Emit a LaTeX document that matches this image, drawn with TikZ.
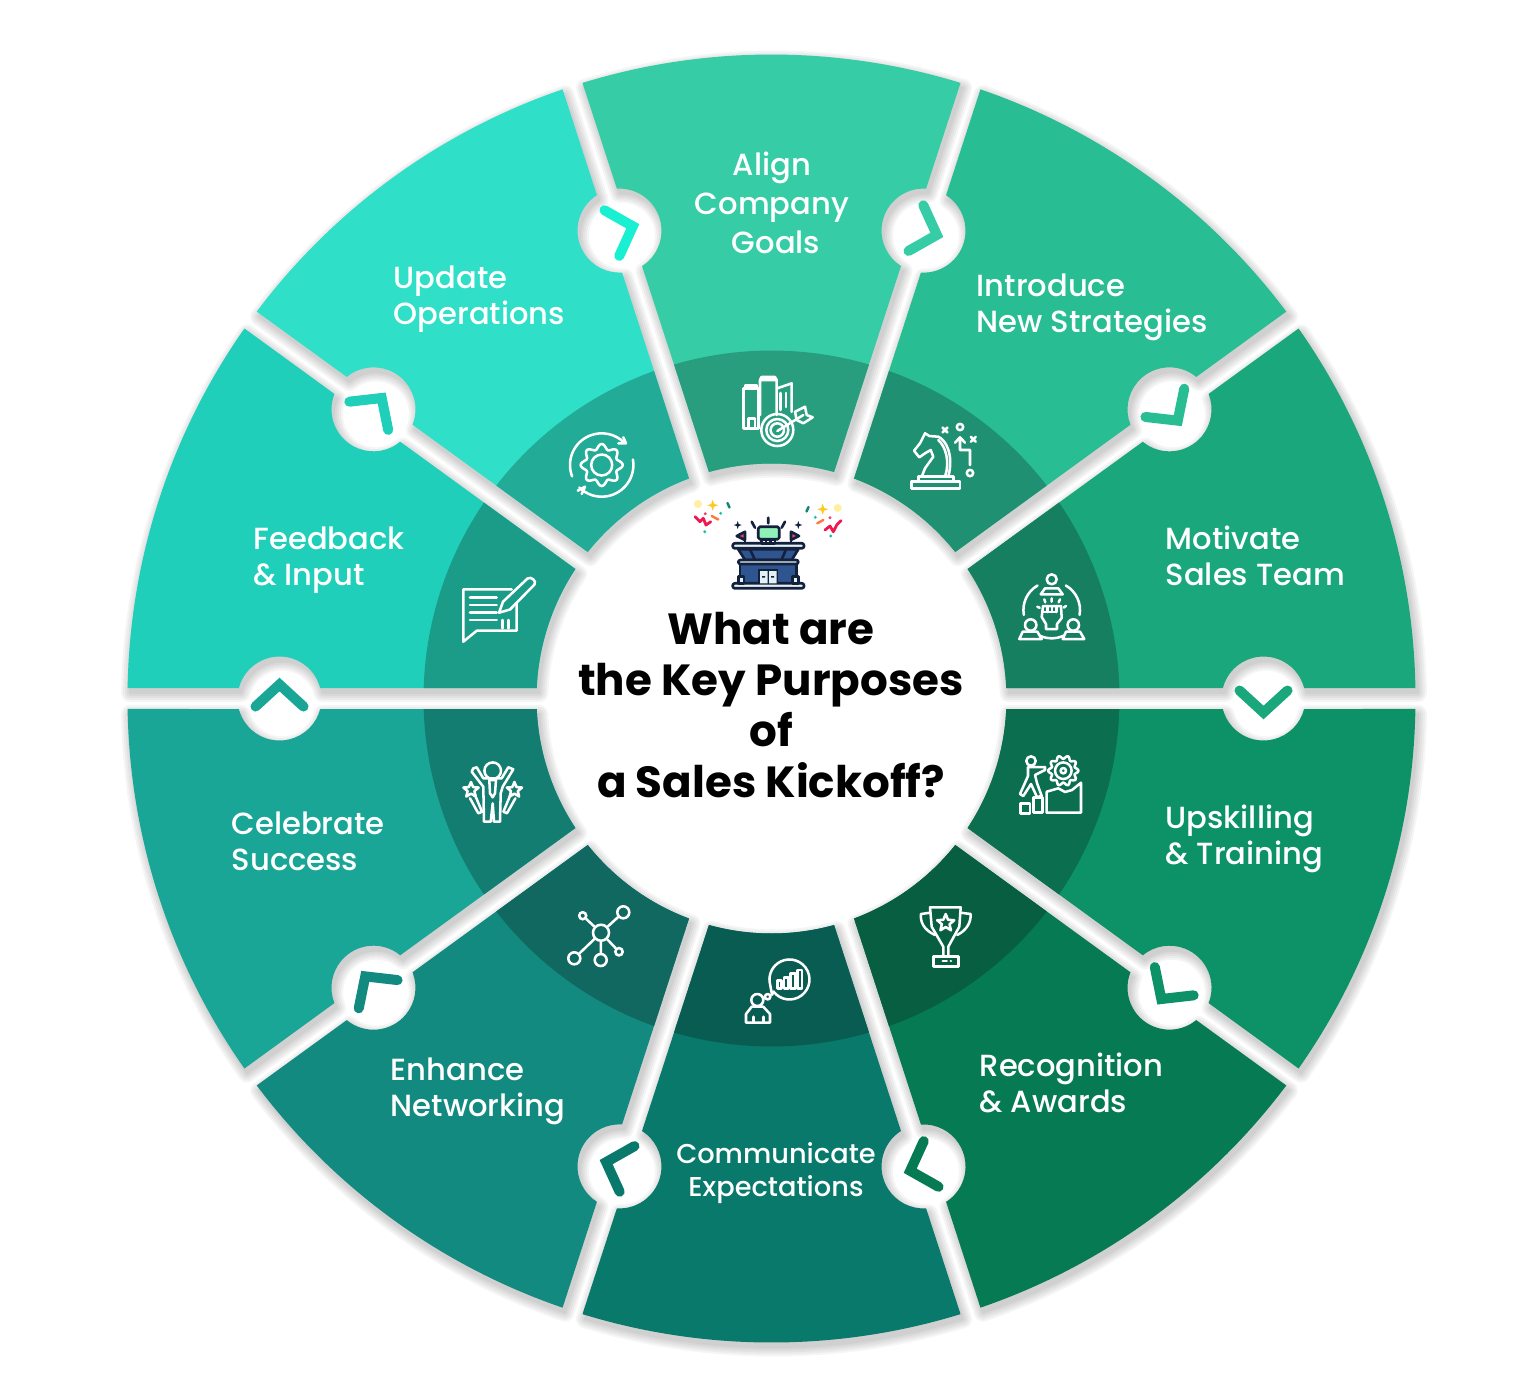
\documentclass[tikz,border=0pt]{standalone}
\usepackage{fontspec}
\setmainfont{Poppins}
\newfontfamily\labelfont{Poppins Medium}
\usetikzlibrary{positioning}

\definecolor{alignOuter}{HTML}{36CDA6}\definecolor{alignInner}{HTML}{289E7E}
\definecolor{introOuter}{HTML}{28BD93}\definecolor{introInner}{HTML}{1F9071}
\definecolor{motivOuter}{HTML}{19A77B}\definecolor{motivInner}{HTML}{157F60}
\definecolor{upskiOuter}{HTML}{0D9267}\definecolor{upskiInner}{HTML}{0A6E4F}
\definecolor{recogOuter}{HTML}{057A53}\definecolor{recogInner}{HTML}{075E41}
\definecolor{commsOuter}{HTML}{08796B}\definecolor{commsInner}{HTML}{095C51}
\definecolor{enhanOuter}{HTML}{138A7F}\definecolor{enhanInner}{HTML}{106860}
\definecolor{celebOuter}{HTML}{1AA697}\definecolor{celebInner}{HTML}{147D72}
\definecolor{feedbOuter}{HTML}{1FCFB9}\definecolor{feedbInner}{HTML}{1A9C88}
\definecolor{updatOuter}{HTML}{2FDFC7}\definecolor{updatInner}{HTML}{22AB96}
\definecolor{updatChev}{HTML}{19F0D2}
\definecolor{stageDark}{HTML}{14213D}\definecolor{stageBlue}{HTML}{2F5590}
\definecolor{stageLight}{HTML}{E3F0F5}\definecolor{stageGreen}{HTML}{8FF0B8}
\definecolor{partyPink}{HTML}{E6436F}\definecolor{partyRed}{HTML}{F0194F}
\definecolor{partyGold}{HTML}{FFC91F}\definecolor{partyPale}{HTML}{FFEFA0}
\definecolor{partyTeal}{HTML}{1ABFA8}\definecolor{partyOrange}{HTML}{FF7A3C}

\newcommand{\wedgepath}{(-15.44:235) -- (-16.667:451.45)
  arc[start angle=147.52,end angle=-3.52,radius=42] -- (-17.07:644)
  arc[start angle=-17.07,end angle=17.07,radius=644] -- (16.871:532.77)
  arc[start angle=3.52,end angle=-147.52,radius=42] -- (15.44:235)
  arc[start angle=15.44,end angle=-15.44,radius=235] -- cycle}
\newcommand{\ringpath}{(-15.44:235) -- (-16.27:348)
  arc[start angle=-16.27,end angle=16.27,radius=348] -- (15.44:235)
  arc[start angle=15.44,end angle=-15.44,radius=235] -- cycle}
\newcommand{\starpath}[2]{(-90:#1) -- (-54:#2) -- (-18:#1) -- (18:#2) -- (54:#1)
  -- (90:#2) -- (126:#1) -- (162:#2) -- (198:#1) -- (234:#2) -- cycle}
\newcommand{\sparkpath}[1]{(0,-#1) -- (.25*#1,-.25*#1) -- (#1,0) -- (.25*#1,.25*#1)
  -- (0,#1) -- (-.25*#1,.25*#1) -- (-#1,0) -- (-.25*#1,-.25*#1) -- cycle}

\tikzset{
  caption/.style={text=white,inner sep=0pt,align=left,anchor=west,
    font=\labelfont\fontsize{8.7}{10.25}\selectfont},
  midcaption/.style={caption,align=center,anchor=center},
  iconline/.style={white,line width=.72pt,line cap=round,line join=round},
  hubdot/.style={circle,draw=white,line width=.72pt,inner sep=0pt},
  stageline/.style={draw=stageDark,line width=.75pt,line join=round},
  chevron/.style={line width=2.85pt,line cap=round,line join=miter},
}

\begin{document}
\begin{tikzpicture}[x=.01cm,y=.01cm,yscale=-1]
\useasboundingbox (0,0) rectangle (1536,1393);
\coordinate (hub) at (771.5,698.5);

% soft shadow of the wedges
\foreach \ang in {-90,-54,...,234}{
  \foreach \wid in {18,14,10,6,2}{
    \begin{scope}[transparency group,opacity=.04]
      \filldraw[black,line join=round,line width=\wid*.2845pt,
        shift={(774,703.5)},rotate=\ang] \wedgepath;
    \end{scope}
  }
}

% wedges, inner ring and chevrons
\foreach \ang/\outercol/\innercol/\chevcol in {
  -90/alignOuter/alignInner/alignOuter,
  -54/introOuter/introInner/introOuter,
  -18/motivOuter/motivInner/motivOuter,
  18/upskiOuter/upskiInner/upskiOuter,
  54/recogOuter/recogInner/recogOuter,
  90/commsOuter/commsInner/commsOuter,
  126/enhanOuter/enhanInner/enhanOuter,
  162/celebOuter/celebInner/celebOuter,
  198/feedbOuter/feedbInner/feedbOuter,
  234/updatOuter/updatInner/updatChev}{
  \begin{scope}[shift={(hub)},rotate=\ang]
    \fill[\outercol] \wedgepath;
    \fill[\innercol] \ringpath;
    \begin{scope}[rotate=18,shift={(492,0)},rotate=90]
      \draw[chevron,\chevcol] (-8,24) -- (14,0) -- (-8,-24);
    \end{scope}
  \end{scope}
}

% wedge captions
\node[midcaption] (align) at (772,203) {Align\\[.9pt]Company\\[.9pt]\hspace{2.3pt}Goals};
\node[caption] (introduce) at (976,307) {Introduce\\New Strategies};
\node[caption] (motivate) at (1165,556) {Motivate\\Sales Team};
\node[caption] (upskilling) at (1165,839) {Upskilling\\\& Training};
\node[caption] (recognition) at (979,1083) {Recognition\\\& Awards};
\node[midcaption,font=\labelfont\fontsize{7.75}{9.4}\selectfont] (communicate) at (776,1173) {Communicate\\Expectations};
\node[caption] (enhance) at (390,1091) {Enhance\\Networking};
\node[caption] (celebrate) at (231,841) {Celebrate\\Success};
\node[caption] (feedback) at (253,560) {Feedback\\\& Input};
\node[caption] (update) at (393,299) {Update\\Operations};

% centre title
\node[inner sep=0pt,align=center,font=\bfseries\fontsize{12.4}{14.5}\selectfont] (title) at (771,705)
  {What are\\the Key Purposes\\of\\a Sales Kickoff?};

% align icon
\begin{scope}[iconline]
  \draw (743.3,428.3) rectangle (758.3,388.3) (745,388.3) -- (745,385.5) -- (757,385.5) -- (757,388.3);
  \draw (748.3,428.3) -- (748.3,418.3) -- (755,418.3) -- (755,428.3);
  \draw (760,415) -- (760,380) (776.7,415) -- (776.7,380) (760,380) -- (761.5,377) -- (775,377) -- (776.7,380) -- cycle;
  \draw (777.3,388.3) -- (791.7,383.3) -- (791.7,412);
  \draw (780.7,393) -- (780.7,410) (786,393) -- (786,407);
  \draw (777.3,430) circle (16) (777.3,430) circle (11) (777.3,430) circle (6.7);
  \draw (777.3,431) -- (803.3,415);
  \draw (795,411.7) -- (805,406.7) -- (806.7,415) -- (812.7,417.3) -- (803.3,423.3) -- (796.7,420) -- cycle;
\end{scope}

% strategy icon
\begin{scope}[iconline]
  \draw (911.7,481.7) rectangle (960,488.3) (918.3,481.7) -- (918.3,476.7) -- (953.3,476.7) -- (953.3,481.7);
  \draw (921.7,476.7) -- (925,468.3) -- (933.3,456.7) -- (930.7,450) -- (925,453.3) -- (919.3,457.3) -- (914,450.7)
    -- (920,443.3) -- (925,433.3) -- (929.3,436) -- (938.3,436.7) .. controls (946,440) and (954,455) .. (948.3,476.7);
  \draw (938.3,440) .. controls (946,447) and (950,462) .. (945,476.7);
  \draw (942.5,427.5) -- (947.5,432.5) (947.5,427.5) -- (942.5,432.5);
  \draw (970.8,436.8) -- (975.8,441.8) (975.8,436.8) -- (970.8,441.8);
  \draw (960,427) circle (3.2) (970,473) circle (3.2);
  \draw (960,438.3) -- (960,450) -- (970,450) -- (970,465) (955,442.7) -- (960,437.3) -- (965,442.7);
\end{scope}

% update icon
\begin{scope}[iconline,shift={(601.7,465)}]
  \draw circle (10.5);
  \draw plot[domain=0:360,samples=121] (\x:{18.5+2.5*cos(8*\x)});
  \draw (159:31.7) arc[start angle=159,end angle=315,radius=31.7];
  \draw (-10:31.7) arc[start angle=-10,end angle=135,radius=31.7];
  \draw (16.6,-21.7) -- (24.3,-21.7) -- (21.6,-27.7);
  \draw (-24,25.7) -- (-16.7,21.7) -- (-20,29);
\end{scope}

% feedback icon
\begin{scope}[iconline]
  \draw (511.7,589.3) -- (463.3,589.3) -- (463.3,641.7) -- (476.7,630.7) -- (516.7,630.7) -- (516.7,603.3);
  \foreach \yy in {597.3,605,612.3,620} \draw (470,\yy) -- (496.7,\yy);
  \draw (502.7,620) -- (502.7,628.3) (508.3,620) -- (508.3,628.3);
  \draw (499,612.7) -- (503,601.7) -- (527.5,578.5) .. controls (531,576) and (537,581) .. (534.5,584.5) -- (510,609.5) -- cycle;
\end{scope}

% motivate icon
\begin{scope}[iconline]
  \draw[shift={(1051.7,610)}] (170:28.3) arc[start angle=170,end angle=240,radius=28.3]
    (-60:28.3) arc[start angle=-60,end angle=10,radius=28.3]
    (65:28.3) arc[start angle=65,end angle=115,radius=28.3];
  \draw (1051.7,579.3) circle (5) (1030.7,625) circle (5.7) (1073.3,625) circle (5.7);
  \draw (1040.7,594.3) -- (1045,588.3) -- (1058.3,588.3) -- (1062.7,594.3) -- cycle;
  \draw (1019.3,639) -- (1022.7,631.7) -- (1037.3,631.7) -- (1041.7,639) -- cycle;
  \draw (1062.7,639) -- (1066,631.7) -- (1080,631.7) -- (1084.3,639) -- cycle;
  \draw (1043,606) -- (1061,606) -- (1061.7,618) -- (1057,624) -- (1057,629) -- (1046,629) -- (1046,624) -- (1041.7,617) -- cycle;
  \draw (1047.5,606) -- (1047.5,612) (1052,606) -- (1052,612) (1056.5,606) -- (1056.5,612) (1043,612) -- (1056,612);
  \draw (1037.3,606.7) -- (1039.7,607.8) (1044.3,599.3) -- (1045.3,602.3) (1051.7,598.3) -- (1051.7,601.7)
    (1060,599.3) -- (1058.7,602.3) (1066,606) -- (1063.7,607.6);
\end{scope}

% upskilling icon
\begin{scope}[iconline]
  \draw (1031,761) circle (4.7);
  \draw (1028,767) -- (1045,767) -- (1045,770) -- (1035,775) -- (1037,783) -- (1041.7,796) -- (1037,797) -- (1031,784)
    -- (1023.3,796) -- (1020,794) -- (1028,776) -- cycle;
  \draw (1020.7,803.3) rectangle (1030,813.3) (1033.3,797.3) rectangle (1042.7,812.7);
  \draw (1046.7,812.7) -- (1046.7,791.7) -- (1058.3,788.3) -- (1065,792) -- (1072,790) -- (1081,782.7) -- (1081,812.7) -- cycle;
  \draw[shift={(1063.3,770.7)}] plot[domain=0:360,samples=121] (\x:{13.5+1.6*cos(10*\x)});
  \draw (1063.3,770.7) circle (8.3) (1063.3,770.7) circle (2.7);
\end{scope}

% trophy icon
\begin{scope}[iconline]
  \draw (943.3,956.7) -- (943.3,946.7) -- (931.7,926.7) -- (930,907.3) -- (960.7,907.3) -- (959.3,926.7) -- (948.3,946.7) -- (948.3,956.7);
  \draw (930,912.7) -- (921,914) .. controls (920,922) and (924,930) .. (935,935);
  \draw (960.7,912.7) -- (970.7,914) .. controls (971,922) and (967,930) .. (957.3,935);
  \draw[shift={(945.7,923)}] \starpath{9}{4};
  \draw (933.3,956.7) rectangle (958.3,966.7) (942.7,961) -- (946.7,961) (950.7,961) -- (951,961);
\end{scope}

% expectations icon
\begin{scope}[iconline]
  \draw (773.5,991.5) arc[start angle=143,end angle=-195,radius=20] -- (772,994.8) -- cycle;
  \draw (767.7,996.7) circle (2.7) (757.3,1000) circle (6);
  \draw (777.7,980.7) rectangle (781.7,988.3) (784,977.3) rectangle (788.7,988.3)
    (790.7,973.3) rectangle (795.3,988.3) (797.3,970) rectangle (802,988.3);
  \draw (746,1022.7) -- (746,1014) -- (751.7,1006.7) -- (763.3,1006.7) -- (770,1014) -- (770,1022.7) -- cycle;
  \draw (753.3,1016.7) -- (753.3,1022.7) (763.3,1016.7) -- (763.3,1022.7);
\end{scope}

% networking icon
\node[hubdot,minimum size=16*.2845pt] (netcentre) at (601,932.7) {};
\node[hubdot,minimum size=7*.2845pt] (netA) at (582.7,915.7) {};
\node[hubdot,minimum size=12*.2845pt] (netB) at (623.3,912.3) {};
\node[hubdot,minimum size=7.4*.2845pt] (netC) at (619,951.7) {};
\node[hubdot,minimum size=12*.2845pt] (netD) at (600.7,960) {};
\node[hubdot,minimum size=12*.2845pt] (netE) at (574.3,958.3) {};
\foreach \sat in {netA,netB,netC,netD,netE} \draw[iconline] (netcentre) -- (\sat);

% celebrate icon
\begin{scope}[iconline]
  \draw (492.7,770.7) circle (8.3);
  \draw (473.3,768.3) -- (476.7,767.3) -- (483.3,778.3) -- (501.7,778.3) -- (508.3,767.3) -- (513.3,769.3) -- (502.7,786.7)
    -- (500.7,793.3) -- (500,821.7) -- (494,821.7) -- (492.7,803.3) -- (490.7,821.7) -- (484,821.7) -- (483.3,786.7) -- (471.7,771.7) -- cycle;
  \draw (489.3,780) -- (496,780) -- (495,793.3) -- (492.7,797.3) -- (490,793.3) -- cycle;
  \draw[shift={(471,790)}] \starpath{8}{3.6};
  \draw[shift={(514.4,790)}] \starpath{8}{3.6};
  \draw (470,798.3) -- (478.3,813.3) -- (482,811.7) -- (475,795);
  \draw (515.4,798.3) -- (507,813.3) -- (503.4,811.7) -- (510.4,795);
\end{scope}

% stage icon over the title
\begin{scope}
  \filldraw[fill=stageBlue,stageline] (738.3,549.3) -- (798.3,549.3) -- (791.7,560) -- (745,560) -- cycle;
  \draw[stageline] (750,549.3) -- (755,560) (786,549.3) -- (781.5,560);
  \filldraw[fill=stageBlue,stageline] (740,564) rectangle (796.7,583.3);
  \filldraw[fill=stageLight,stageline,rounded corners=.6pt] (732.7,543.3) rectangle (804,548.3);
  \filldraw[fill=stageLight,stageline,rounded corners=.6pt] (738.3,560) rectangle (798.3,564);
  \filldraw[fill=stageLight,stageline,rounded corners=.6pt] (732.7,583.3) rectangle (804,588.3);
  \fill[stageDark] (758.3,569.3) rectangle (778.3,583.3);
  \fill[stageLight] (760,571) rectangle (767.6,583.3) (769,571) rectangle (776.6,583.3);
  \fill[stageDark] (762,576) rectangle (765,577.5) (771,576) rectangle (774,577.5);
  \filldraw[fill=stageLight,stageline] (738.3,576.7) rectangle (744,583.3) (792.3,576.7) rectangle (798.3,583.3);
  \filldraw[fill=white,stageline] (761.7,539.3) rectangle (775,543.3);
  \draw[stageline] (766,539.3) -- (766,543.3) (770.5,539.3) -- (770.5,543.3);
  \filldraw[fill=stageGreen,stageline,rounded corners=.5pt] (758.3,526.7) rectangle (779.3,539.3);
  \filldraw[fill=partyPink,stageline] (745,531.7) -- (736.7,536) -- (745,540) -- cycle;
  \filldraw[fill=partyPink,stageline] (791,531.7) -- (799,536) -- (791,540) -- cycle;
  \draw[stageline] (745,531.7) -- (745,543.3) (791,531.7) -- (791,543.3);
  \fill[stageDark,shift={(737.7,525)}] \sparkpath{4};
  \fill[stageDark,shift={(798.3,525)}] \sparkpath{4};
  \draw[stageline,line cap=round] (751.7,521.7) -- (755,527.7) (768.3,517.7) -- (768.3,523.3) (785,521.7) -- (781.7,527.7);
  % confetti
  \fill[partyPale] (698,504) circle (4) (837.7,508) circle (4);
  \fill[partyGold,shift={(712.7,505.3)}] \sparkpath{5.5};
  \fill[partyGold,shift={(822.7,509.3)}] \sparkpath{5.5};
  \fill[partyPink] (705.3,513.7) circle (1.6) (830,517.7) circle (1.6);
  \fill[partyTeal] (720.7,513.3) circle (1.6) (704.7,531.7) circle (1.6) (815.3,517.3) circle (1.6) (830.7,536) circle (1.6);
  \draw[partyTeal!70!black,line width=.7pt,line cap=round] (727.5,503) -- (729.5,507.5) (808.5,507) -- (806.5,511.5);
  \draw[partyOrange,line width=.7pt,line cap=round] (711.7,516) -- (718.3,519.5) (817.3,523.3) -- (823.3,520);
  \draw[partyRed,line width=.8pt,line cap=round,line join=round] (695,516.7) -- (700,521.7) -- (703.3,518.3) -- (706,525) -- (710.7,521.7);
  \draw[partyRed,line width=.8pt,line cap=round,line join=round] (825,530) -- (830,526) -- (833.3,531.7) -- (836.7,525) -- (841,520.7);
\end{scope}
\end{tikzpicture}
\end{document}
